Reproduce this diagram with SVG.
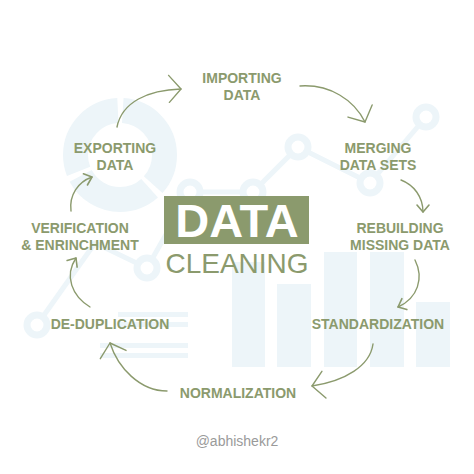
<svg xmlns="http://www.w3.org/2000/svg" width="474" height="474" viewBox="0 0 474 474">
<style>
.bg{fill:#edf5f9}
.bgs{fill:none;stroke:#edf5f9}
.lbl{font-family:"Liberation Sans",Arial,sans-serif;font-weight:bold;font-size:14px;fill:#8b9a6d;text-anchor:middle}
.arr{fill:none;stroke:#8b9a6d;stroke-width:1.4;stroke-linecap:round}
</style>
<defs>
<marker id="big" markerUnits="userSpaceOnUse" viewBox="-20 -20 40 40" markerWidth="40" markerHeight="40" refX="0" refY="0" orient="auto" overflow="visible">
<path d="M-12,-14 L0,0 L-12,13" fill="none" stroke="#8b9a6d" stroke-width="1.4" stroke-linecap="round" stroke-linejoin="round"/>
</marker>
<marker id="small" markerUnits="userSpaceOnUse" viewBox="-20 -20 40 40" markerWidth="40" markerHeight="40" refX="0" refY="0" orient="auto" overflow="visible">
<path d="M-7,-6 L0,0 L-7,6" fill="none" stroke="#8b9a6d" stroke-width="1.6" stroke-linecap="round" stroke-linejoin="round"/>
</marker>
</defs>
<rect width="474" height="474" fill="#ffffff"/>
<g id="background">
<circle cx="120" cy="155" r="44.5" class="bgs" stroke-width="25" stroke-dasharray="32.45 5 80.45 5 84.3 5 67.4"/>
<polyline points="37,325 95,243 147,268 190,192 253,192 298,147 370,183 426,117" class="bgs" stroke-width="5" stroke-linejoin="round"/>
<g class="bgs" stroke-width="7">
<circle cx="37" cy="325" r="10" fill="#fff"/>
<circle cx="147" cy="268" r="10" fill="#fff"/>
<circle cx="190" cy="192" r="10" fill="#fff"/>
<circle cx="253" cy="192" r="10" fill="#fff"/>
<circle cx="298" cy="147" r="10" fill="#fff"/>
<circle cx="370" cy="183" r="10" fill="#fff"/>
<circle cx="426" cy="117" r="10" fill="#fff"/>
</g>
<rect x="118" y="312" width="70" height="5" class="bg"/>
<rect x="118" y="322" width="70" height="5" class="bg"/>
<rect x="100" y="343" width="88" height="5" class="bg"/>
<rect x="100" y="353" width="88" height="5" class="bg"/>
<rect x="232" y="262" width="33" height="105" class="bg"/>
<rect x="277" y="284" width="34" height="83" class="bg"/>
<rect x="324" y="252" width="33" height="115" class="bg"/>
<rect x="370" y="252" width="34" height="115" class="bg"/>
<rect x="416" y="302" width="34" height="65" class="bg"/>
</g>
<g id="connectors">
<path class="arr" d="M117,127 C122,102 148,90 181,89" marker-end="url(#big)"/>
<path class="arr" d="M300,86 C330,84 354,100 365,122" marker-end="url(#big)"/>
<path class="arr" d="M401,180 C414,185 423,197 423,212" marker-end="url(#small)"/>
<path class="arr" d="M415,260 C424,278 418,298 398,307" marker-end="url(#small)"/>
<path class="arr" d="M373,344 C370,366 345,381 312,386" marker-end="url(#big)"/>
<path class="arr" d="M167,391 C140,391 118,368 110,343" marker-end="url(#big)"/>
<path class="arr" d="M90,307 C72,296 64,276 76,258" marker-end="url(#small)"/>
<path class="arr" d="M71,211 C69,195 78,182 92,177" marker-end="url(#small)"/>
</g>
<g id="title">
<rect x="164" y="196" width="145" height="48" fill="#8b9a6d"/>
<text x="237" y="237" font-family="'Liberation Sans',Arial,sans-serif" font-weight="bold" font-size="47" fill="#ffffff" text-anchor="middle">DATA</text>
<text x="237" y="273" font-family="'Liberation Sans',Arial,sans-serif" font-size="28" fill="#8b9a6d" text-anchor="middle">CLEANING</text>
</g>
<g id="importing"><text class="lbl" x="242" y="83">IMPORTING</text><text class="lbl" x="242" y="100">DATA</text></g>
<g id="merging"><text class="lbl" x="378" y="153">MERGING</text><text class="lbl" x="378" y="170">DATA SETS</text></g>
<g id="rebuilding"><text class="lbl" x="400" y="233">REBUILDING</text><text class="lbl" x="400" y="250">MISSING DATA</text></g>
<g id="standardization"><text class="lbl" x="378" y="329">STANDARDIZATION</text></g>
<g id="normalization"><text class="lbl" x="238" y="398">NORMALIZATION</text></g>
<g id="deduplication"><text class="lbl" x="110" y="329">DE-DUPLICATION</text></g>
<g id="verification"><text class="lbl" x="80" y="233">VERIFICATION</text><text class="lbl" x="80" y="250">&amp; ENRINCHMENT</text></g>
<g id="exporting"><text class="lbl" x="115" y="153">EXPORTING</text><text class="lbl" x="115" y="170">DATA</text></g>
<text x="237" y="446" font-family="'Liberation Sans',Arial,sans-serif" font-size="14" fill="#9a9a9a" text-anchor="middle">@abhishekr2</text>
</svg>
